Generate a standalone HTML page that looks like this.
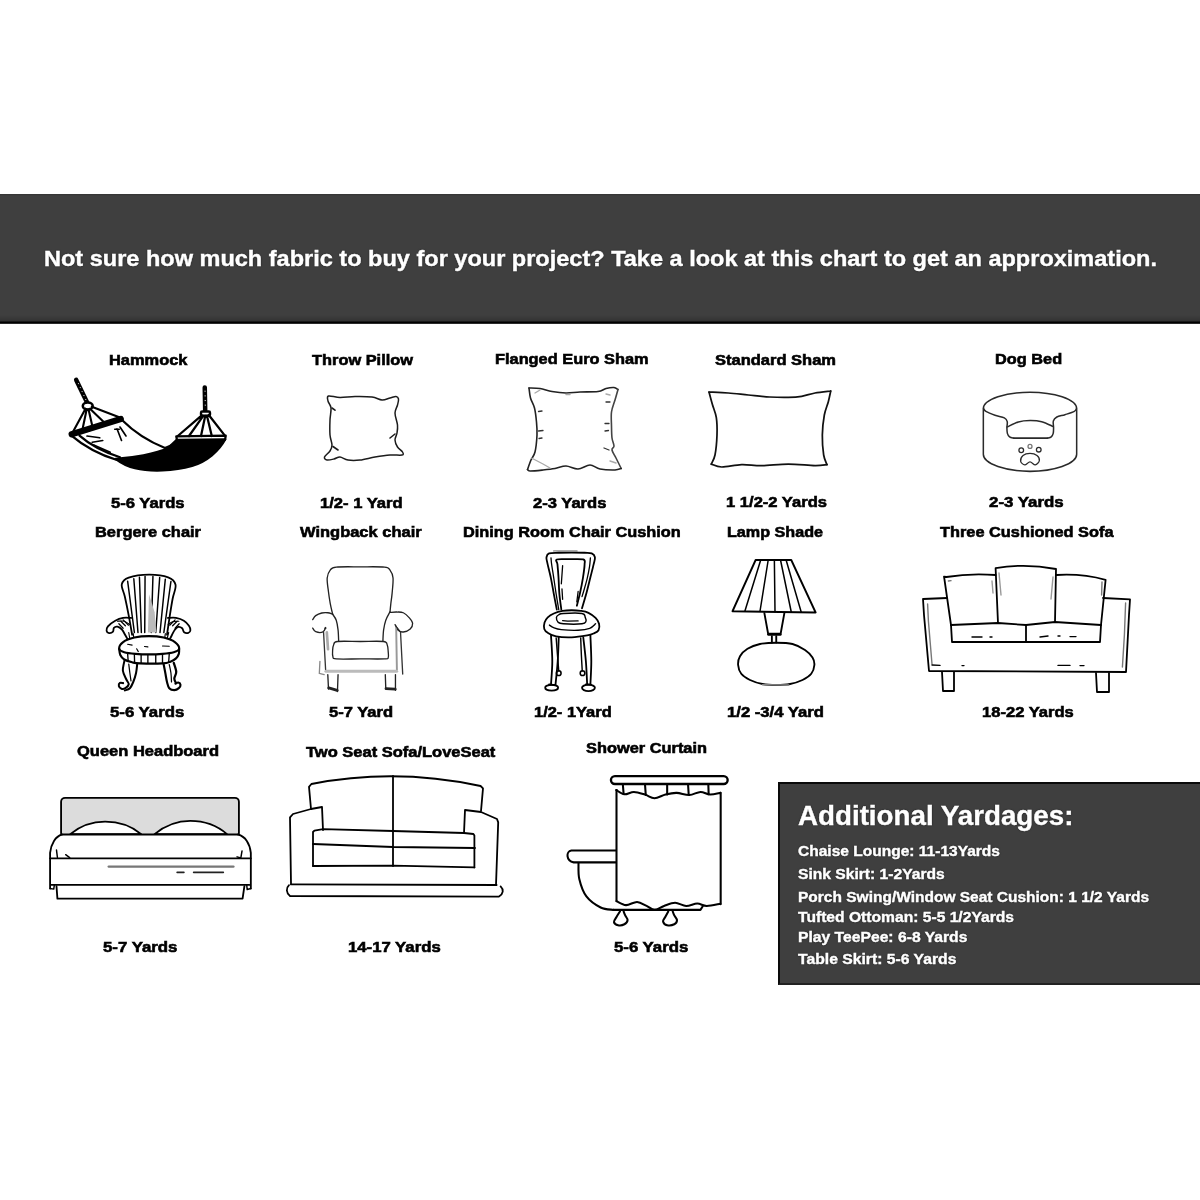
<!DOCTYPE html>
<html><head><meta charset="utf-8"><title>Fabric Yardage Chart</title>
<style>
html,body{margin:0;padding:0;background:#fff}
body{width:1200px;height:1200px;position:relative;overflow:hidden;font-family:"Liberation Sans",sans-serif}
.band{position:absolute;left:0;top:194px;width:1200px;height:130px;background:linear-gradient(#333 0,#3f3f3f 2px,#3f3f3f 121px,#333 127px,#000 128px,#000 129px,#555 130px)}
.box{position:absolute;left:778px;top:782px;width:422px;height:203px;box-sizing:border-box;background:#3f3f3f;border:2px solid #0a0a0a;border-right:none;border-bottom-color:#222}
.t{position:absolute;white-space:pre;line-height:1;font-weight:bold;transform-origin:0 0;will-change:transform;font-family:"Liberation Sans",sans-serif}
.k{color:#000;-webkit-text-stroke:0.6px #000}
.w{color:#fff;-webkit-text-stroke:0.4px #fff;text-shadow:0 0 2px rgba(0,0,0,.7)}
svg{position:absolute;left:0;top:0}
#stage{position:absolute;left:0;top:0;width:1200px;height:1200px;filter:blur(0.5px)}
</style></head><body>
<div id="stage">
<div class="band"></div>
<div class="box"></div>
<svg width="1200" height="1200" viewBox="0 0 1200 1200" fill="none" stroke="#000" stroke-width="1.6" stroke-linecap="round" stroke-linejoin="round">
<g transform="translate(60,370) scale(0.15000)" stroke-width="15">
<path d="M108 66 L185 225" stroke-width="30"/>
<path d="M122 88 L176 206" stroke="#fff" stroke-width="6" stroke-dasharray="7 22" stroke-linecap="butt"/>
<ellipse cx="185" cy="240" rx="33" ry="24" fill="#fff" stroke-width="17"/>
<path d="M170 258 L85 415 M178 262 L150 395 M190 262 L215 372 M200 258 L290 345 M212 245 L395 315" stroke-width="14"/>
<path d="M78 428 L405 326" stroke-width="42"/>
<path d="M965 116 L968 272" stroke-width="30"/>
<path d="M967 138 L969 260" stroke="#fff" stroke-width="6" stroke-dasharray="7 24" stroke-linecap="butt"/>
<rect x="940" y="277" width="60" height="28" rx="8" fill="#fff" stroke-width="16"/>
<path d="M775 442 L1105 438 L1100 466 L780 468 Z" fill="#fff"/>
<path d="M945 302 L785 440 M955 306 L860 440 M968 306 L940 440 M980 306 L1012 440 M992 300 L1098 436"/>
<path d="M415 335 C500 420 600 480 700 520 L760 495"/>
<path d="M70 432 C150 500 250 560 380 600"/>
<path d="M130 438 C200 500 300 550 400 582"/>
<path d="M778 466 L1102 462 C1060 540 980 610 880 640 C760 675 600 680 500 655 C440 640 400 615 370 592 C480 585 640 560 720 520 Z" fill="#000"/>
<path d="M365 395 L395 395 M380 392 L410 470 M400 380 L440 440 M180 440 L265 452 M215 482 L285 470 M225 500 L335 548" stroke-width="11"/>
</g>
<g transform="translate(300,375) scale(0.10000)" stroke-width="15" stroke="#1c1c1c">
<path d="M285 210 C305.0 204.2 355.8 224.2 400 225 C444.2 225.8 496.7 215.8 550 215 C603.3 214.2 675.0 214.2 720 220 C765.0 225.8 790.0 248.3 820 250 C850.0 251.7 876.7 235.8 900 230 C923.3 224.2 945.8 213.3 960 215 C974.2 216.7 982.5 225.8 985 240 C987.5 254.2 980.8 276.7 975 300 C969.2 323.3 950.0 346.7 950 380 C950.0 413.3 971.7 466.7 975 500 C978.3 533.3 974.2 555.0 970 580 C965.8 605.0 949.2 626.7 950 650 C950.8 673.3 962.5 700.0 975 720 C987.5 740.0 1017.5 756.7 1025 770 C1032.5 783.3 1040.8 795.0 1020 800 C999.2 805.0 945.0 796.7 900 800 C855.0 803.3 800.0 811.7 750 820 C700.0 828.3 645.0 845.0 600 850 C555.0 855.0 513.3 855.0 480 850 C446.7 845.0 423.3 821.7 400 820 C376.7 818.3 361.7 835.0 340 840 C318.3 845.0 285.8 853.3 270 850 C254.2 846.7 240.0 835.0 245 820 C250.0 805.0 287.5 780.0 300 760 C312.5 740.0 320.0 726.7 320 700 C320.0 673.3 303.3 641.7 300 600 C296.7 558.3 298.3 495.0 300 450 C301.7 405.0 313.3 361.7 310 330 C306.7 298.3 284.2 280.0 280 260 C275.8 240.0 265.0 215.8 285 210 Z"/>
<path d="M900 630 L950 590 M330 715 L380 750 M320 330 L350 352" stroke-width="16"/>
</g>
<g transform="translate(510,370) scale(0.10000)" stroke-width="16">
<path d="M190 180 C208.3 180.8 261.7 179.2 300 185 C338.3 190.8 376.7 207.5 420 215 C463.3 222.5 513.3 229.2 560 230 C606.7 230.8 646.7 222.5 700 220 C753.3 217.5 836.7 220.8 880 215 C923.3 209.2 933.3 191.7 960 185 C986.7 178.3 1020.0 173.3 1040 175 C1060.0 176.7 1073.3 191.7 1080 195 " stroke="#222"/>
<path d="M1080 195 C1075.0 212.5 1060.8 262.5 1050 300 C1039.2 337.5 1020.8 376.7 1015 420 C1009.2 463.3 1014.2 516.7 1015 560 C1015.8 603.3 1015.8 646.7 1020 680 C1024.2 713.3 1040.0 740.0 1040 760 C1040.0 780.0 1016.7 780.0 1020 800 C1023.3 820.0 1044.7 849.2 1060 880 C1075.3 910.8 1103.3 967.5 1112 985" stroke="#444"/>
<path d="M1112 985 C1101.7 987.5 1085.3 999.2 1050 1000 C1014.7 1000.8 941.7 998.3 900 990 C858.3 981.7 836.7 950.0 800 950 C763.3 950.0 720.0 988.3 680 990 C640.0 991.7 598.3 960.8 560 960 C521.7 959.2 488.3 978.3 450 985 C411.7 991.7 371.7 995.8 330 1000 C288.3 1004.2 225.8 1010.8 200 1010 C174.2 1009.2 179.2 997.5 175 995" stroke="#222"/>
<path d="M175 995 C180.8 979.2 197.5 929.2 210 900 C222.5 870.8 240.0 861.7 250 820 C260.0 778.3 267.5 700.0 270 650 C272.5 600.0 269.2 565.0 265 520 C260.8 475.0 255.0 420.0 245 380 C235.0 340.0 214.2 313.3 205 280 C195.8 246.7 192.5 196.7 190 180" stroke="#222"/>
<path d="M285 415 L320 410 M285 610 L330 605 M290 685 L320 680 M960 320 L1000 320 M950 535 L990 535 M950 610 L985 605 M940 780 L990 800" stroke-width="13" stroke="#333"/>
<path d="M215 880 L330 940 L400 980 M1060 930 L1000 910 M250 230 L300 200 M1000 250 L960 240 M560 245 L600 245" stroke-width="14" stroke="#aaa"/>
</g>
<g transform="translate(695,375) scale(0.13333)" stroke-width="13" stroke="#111">
<path d="M105 128 C129.2 129.2 200.8 131.3 250 135 C299.2 138.7 348.3 145.0 400 150 C451.7 155.0 510.0 162.0 560 165 C610.0 168.0 660.0 168.8 700 168 C740.0 167.2 766.7 165.5 800 160 C833.3 154.5 863.7 141.7 900 135 C936.3 128.3 998.3 122.5 1018 120"/>
<path d="M1018 120 C1015.0 133.3 1008.0 170.0 1000 200 C992.0 230.0 977.5 258.3 970 300 C962.5 341.7 955.8 400.0 955 450 C954.2 500.0 959.2 563.0 965 600 C970.8 637.0 985.8 660.0 990 672"/>
<path d="M990 672 C975.0 673.3 948.3 680.7 900 680 C851.7 679.3 766.7 668.0 700 668 C633.3 668.0 558.3 679.3 500 680 C441.7 680.7 400.0 670.3 350 672 C300.0 673.7 238.0 690.7 200 690 C162.0 689.3 135.0 671.7 122 668"/>
<path d="M122 668 C126.7 656.7 142.8 636.3 150 600 C157.2 563.7 163.3 496.7 165 450 C166.7 403.3 165.8 358.3 160 320 C154.2 281.7 139.2 252.0 130 220 C120.8 188.0 109.2 143.3 105 128"/>
</g>
<g transform="translate(960,375) scale(0.11667)" stroke-width="13" stroke="#2a2a2a">
<path d="M200 290 C200 205 400 148 600 148 C800 148 1000 205 1000 290 L1000 680 C1000 765 800 826 600 826 C400 826 200 765 200 680 Z"/>
<path d="M202 288 C205.3 292.0 205.7 302.5 222 312 C238.3 321.5 273.7 335.7 300 345 C326.3 354.3 362.5 358.8 380 368 C397.5 377.2 401.3 386.3 405 400 C408.7 413.7 401.8 433.3 402 450 C402.2 466.7 402.2 486.7 406 500 C409.8 513.3 416.0 523.2 425 530 C434.0 536.8 454.2 539.2 460 541"/>
<path d="M998 288 C995.0 292.0 996.3 303.3 980 312 C963.7 320.7 925.0 332.0 900 340 C875.0 348.0 846.7 350.8 830 360 C813.3 369.2 804.7 380.0 800 395 C795.3 410.0 802.2 432.5 802 450 C801.8 467.5 802.3 486.7 799 500 C795.7 513.3 790.2 523.2 782 530 C773.8 536.8 755.3 539.2 750 541"/>
<path d="M460 541 L750 541"/>
<path d="M406 445 C421.7 437.8 467.7 411.2 500 402 C532.3 392.8 566.7 390.3 600 390 C633.3 389.7 666.8 391.3 700 400 C733.2 408.7 782.5 435.0 799 442"/>
<circle cx="525" cy="645" r="20" stroke-width="11"/><circle cx="600" cy="612" r="17" stroke-width="11" stroke="#777"/><circle cx="675" cy="640" r="20" stroke-width="11"/>
<path d="M540 690 C526.7 701.3 517.5 726.7 520 740 C522.5 753.3 541.7 769.2 555 770 C568.3 770.8 585.0 745.0 600 745 C615.0 745.0 631.7 771.7 645 770 C658.3 768.3 677.5 748.3 680 735 C682.5 721.7 673.3 700.5 660 690 C646.7 679.5 620.0 672.0 600 672 C580.0 672.0 553.3 678.7 540 690 Z" stroke-width="11"/>
</g>
<g transform="translate(95,565) scale(0.11250)" stroke-width="16">
<path d="M330 620 C325.0 591.7 310.8 506.7 300 450 C289.2 393.3 275.3 326.3 265 280 C254.7 233.7 232.2 200.0 238 172 C243.8 144.0 259.7 126.3 300 112 C340.3 97.7 421.7 86.3 480 86 C538.3 85.7 610.7 95.0 650 110 C689.3 125.0 709.3 144.3 716 176 C722.7 207.7 698.5 254.3 690 300 C681.5 345.7 673.3 396.7 665 450 C656.7 503.3 644.2 591.7 640 620"/>
<path d="M290 144 L350 600" stroke-width="13"/>
<path d="M345 122 L382 600" stroke-width="13"/>
<path d="M395 109 L412 600" stroke-width="13"/>
<path d="M445 101 L442 600" stroke-width="13"/>
<path d="M515 101 L500 600" stroke-width="13"/>
<path d="M575 111 L540 600" stroke-width="13"/>
<path d="M625 126 L578 600" stroke-width="13"/>
<path d="M675 146 L612 600" stroke-width="13"/>
<path d="M480 260 L470 600 L545 600 L530 420 Z" fill="#bbb" stroke="none"/>
<path d="M322 470 C310.0 470.0 273.7 465.8 250 470 C226.3 474.2 202.5 482.5 180 495 C157.5 507.5 127.8 530.0 115 545 C102.2 560.0 101.3 575.0 103 585 C104.7 595.0 115.5 603.8 125 605 C134.5 606.2 152.8 599.8 160 592 C167.2 584.2 161.3 565.3 168 558 C174.7 550.7 188.0 545.2 200 548 C212.0 550.8 228.3 562.2 240 575 C251.7 587.8 261.7 610.8 270 625 C278.3 639.2 286.7 654.2 290 660"/>
<path d="M200 500 C210.0 500.0 241.7 495.0 260 500 C278.3 505.0 301.7 525.0 310 530" stroke-width="10"/>
<path d="M648 470 C660.0 470.0 696.3 465.8 720 470 C743.7 474.2 770.8 483.3 790 495 C809.2 506.7 825.3 525.8 835 540 C844.7 554.2 848.8 569.5 848 580 C847.2 590.5 839.3 600.0 830 603 C820.7 606.0 801.2 604.8 792 598 C782.8 591.2 783.7 570.0 775 562 C766.3 554.0 750.8 547.8 740 550 C729.2 552.2 719.2 563.3 710 575 C700.8 586.7 692.5 605.8 685 620 C677.5 634.2 668.3 653.3 665 660"/>
<path d="M745 500 C735.8 500.8 705.8 500.0 690 505 C674.2 510.0 656.7 525.8 650 530" stroke-width="10"/>
<path d="M300 600 L310 660 M340 610 L345 650 M655 600 L640 660 M625 610 L620 650" stroke-width="10"/>
<path d="M230 500 L270 540 M250 488 L298 535 M212 522 L250 562 M730 500 L690 540 M712 488 L664 535 M748 522 L712 562" stroke-width="11"/>
<path d="M215 745 C213.3 730.0 227.5 701.7 250 685 C272.5 668.3 311.7 653.8 350 645 C388.3 636.2 436.7 632.0 480 632 C523.3 632.0 571.7 636.2 610 645 C648.3 653.8 687.0 668.3 710 685 C733.0 701.7 749.7 730.0 748 745 C746.3 760.0 724.7 767.5 700 775 C675.3 782.5 636.7 786.7 600 790 C563.3 793.3 520.0 795.0 480 795 C440.0 795.0 396.7 793.3 360 790 C323.3 786.7 284.2 782.5 260 775 C235.8 767.5 216.7 760.0 215 745 Z" fill="#fff" stroke-width="19"/>
<path d="M215 745 C216.7 754.2 217.5 784.2 225 800 C232.5 815.8 242.5 829.2 260 840 C277.5 850.8 306.7 859.2 330 865 C353.3 870.8 355.0 873.3 400 875 C445.0 876.7 555.0 877.5 600 875 C645.0 872.5 650.0 867.5 670 860 C690.0 852.5 707.5 841.7 720 830 C732.5 818.3 740.3 804.2 745 790 C749.7 775.8 747.5 752.5 748 745" stroke-width="19"/>
<path d="M290 790 L295 855 M350 795 L352 868 M410 800 L410 872 M470 800 L470 872 M540 800 L540 872 M600 795 L600 870 M660 790 L655 860" stroke-width="12"/>
<path d="M290 705 L330 712 M600 720 L660 722 M440 725 L470 728 M370 745 L385 770" stroke-width="10"/>
<path d="M262 850 C259.7 865.0 245.0 911.7 248 940 C251.0 968.3 271.3 1000.0 280 1020 C288.7 1040.0 301.7 1047.5 300 1060 C298.3 1072.5 280.8 1088.3 270 1095 C259.2 1101.7 244.7 1103.3 235 1100 C225.3 1096.7 214.2 1083.7 212 1075 C209.8 1066.3 215.7 1052.2 222 1048 C228.3 1043.8 245.3 1049.7 250 1050" stroke-width="18"/>
<path d="M375 882 C373.3 895.0 370.8 933.7 365 960 C359.2 986.3 349.2 1017.5 340 1040 C330.8 1062.5 322.5 1082.5 310 1095 C297.5 1107.5 272.5 1111.7 265 1115" stroke-width="18"/>
<path d="M300 880 C301.7 893.3 306.7 935.0 310 960 C313.3 985.0 318.3 1018.3 320 1030" stroke-width="11"/>
<path d="M610 882 C612.5 895.0 620.0 933.7 625 960 C630.0 986.3 634.2 1017.5 640 1040 C645.8 1062.5 649.2 1083.0 660 1095 C670.8 1107.0 690.8 1112.0 705 1112 C719.2 1112.0 735.8 1102.8 745 1095 C754.2 1087.2 760.8 1073.3 760 1065 C759.2 1056.7 747.5 1046.7 740 1045 C732.5 1043.3 719.2 1053.3 715 1055" stroke-width="19"/>
<path d="M700 870 C703.7 883.3 721.2 926.7 722 950 C722.8 973.3 705.3 993.3 705 1010 C704.7 1026.7 717.5 1043.3 720 1050" stroke-width="20"/>
<path d="M660 885 C662.5 897.5 671.7 934.2 675 960 C678.3 985.8 679.2 1026.7 680 1040" stroke-width="11"/>
</g>
<g transform="translate(300,555) scale(0.12083)" stroke-width="11">
<path d="M270 490 C266.7 475.0 255.8 431.7 250 400 C244.2 368.3 239.2 335.0 235 300 C230.8 265.0 222.5 219.2 225 190 C227.5 160.8 237.5 140.0 250 125 C262.5 110.0 258.3 104.5 300 100 C341.7 95.5 433.3 98.0 500 98 C566.7 98.0 659.2 95.5 700 100 C740.8 104.5 733.3 110.0 745 125 C756.7 140.0 767.2 157.5 770 190 C772.8 222.5 765.0 285.0 762 320 C759.0 355.0 754.8 375.0 752 400 C749.2 425.0 746.2 458.3 745 470" stroke="#222"/>
<path d="M270 490 C275.0 498.3 292.5 518.3 300 540 C307.5 561.7 311.7 591.3 315 620 C318.3 648.7 319.2 696.7 320 712" stroke="#222"/>
<path d="M745 470 C739.2 481.7 718.8 515.0 710 540 C701.2 565.0 696.0 591.3 692 620 C688.0 648.7 687.0 696.7 686 712" stroke="#222"/>
<path d="M270 490 C263.3 488.0 245.0 479.7 230 478 C215.0 476.3 196.7 476.0 180 480 C163.3 484.0 142.5 492.8 130 502 C117.5 511.2 109.2 529.5 105 535" stroke="#222"/>
<path d="M105 605 C109.2 610.0 115.8 629.7 130 635 C144.2 640.3 176.3 642.8 190 637 C203.7 631.2 208.3 606.2 212 600" stroke="#222"/>
<path d="M745 475 C754.2 474.5 781.7 471.5 800 472 C818.3 472.5 837.5 470.0 855 478 C872.5 486.0 892.2 505.5 905 520 C917.8 534.5 930.8 549.7 932 565 C933.2 580.3 924.8 600.0 912 612 C899.2 624.0 871.7 635.3 855 637 C838.3 638.7 823.2 631.8 812 622 C800.8 612.2 792.0 585.3 788 578" stroke="#222"/>
<path d="M195 640 L212 950" stroke="#333"/>
<path d="M222 640 L232 780" stroke="#aaa" stroke-width="22"/>
<path d="M832 640 L850 985" stroke="#333"/>
<path d="M796 600 L802 950" stroke="#999" stroke-width="16"/>
<path d="M310 716 C347.0 711.2 436.7 716.0 500 716 C563.3 716.0 653.0 711.2 690 716 C727.0 720.8 715.3 731.0 722 745 C728.7 759.0 728.7 782.5 730 800 C731.3 817.5 735.0 840.0 730 850 C725.0 860.0 738.3 858.3 700 860 C661.7 861.7 566.7 860.0 500 860 C433.3 860.0 338.0 863.3 300 860 C262.0 856.7 277.0 851.7 272 840 C267.0 828.3 269.0 805.8 270 790 C271.0 774.2 271.3 757.3 278 745 C284.7 732.7 273.0 720.8 310 716 Z" stroke="#222"/>
<path d="M215 962 L800 962" stroke="#bbb" stroke-width="26"/>
<path d="M165 880 L160 980 L200 990" stroke="#888"/>
<path d="M230 990 L236 1110 M315 990 L310 1130 M706 990 L710 1110 M790 990 L790 1120" stroke="#222"/>
<path d="M238 1100 L308 1120 M712 1106 L788 1110" stroke="#222" stroke-width="24"/>
<path d="M788 578 L812 622 L836 640 L804 598 Z" fill="#222" stroke="#222" stroke-width="6"/>
<circle cx="210" cy="606" r="9" fill="#222" stroke="none"/>
</g>
<g transform="translate(520,545) scale(0.12917)" stroke-width="14">
<path d="M262 46 L440 46" stroke="#aaa" stroke-width="14"/>
<path d="M285 500 C281.2 480.0 269.5 420.0 262 380 C254.5 340.0 248.3 300.0 240 260 C231.7 220.0 217.8 167.5 212 140 C206.2 112.5 202.8 107.5 205 95 C207.2 82.5 209.2 70.8 225 65 C240.8 59.2 254.2 60.8 300 60 C345.8 59.2 457.5 59.2 500 60 C542.5 60.8 541.7 59.2 555 65 C568.3 70.8 577.5 80.8 580 95 C582.5 109.2 575.8 124.2 570 150 C564.2 175.8 554.2 213.3 545 250 C535.8 286.7 525.8 330.0 515 370 C504.2 410.0 485.8 470.0 480 490"/>
<path d="M300 500 C296.7 480.0 286.3 420.0 280 380 C273.7 340.0 267.8 298.3 262 260 C256.2 221.7 248.7 176.7 245 150 C241.3 123.3 240.8 108.3 240 100" stroke-width="10"/>
<path d="M545 100 C543.8 111.7 542.2 143.3 538 170 C533.8 196.7 527.2 230.0 520 260 C512.8 290.0 501.7 326.7 495 350 C488.3 373.3 482.5 391.7 480 400" stroke-width="10"/>
<path d="M320 500 C317.5 480.0 308.7 421.7 305 380 C301.3 338.3 300.5 288.3 298 250 C295.5 211.7 292.2 173.0 290 150 C287.8 127.0 270.0 118.7 285 112 C300.0 105.3 345.8 110.0 380 110 C414.2 110.0 470.0 105.3 490 112 C510.0 118.7 500.3 127.0 500 150 C499.7 173.0 493.8 213.3 488 250 C482.2 286.7 473.0 333.3 465 370 C457.0 406.7 444.2 453.3 440 470"/>
<path d="M330 160 L320 300 M325 340 L330 420 M450 360 L440 440" stroke-width="10"/>
<path d="M190 600 C194.5 585.0 203.0 571.7 215 560 C227.0 548.3 242.8 538.3 262 530 C281.2 521.7 307.0 514.2 330 510 C353.0 505.8 376.7 505.0 400 505 C423.3 505.0 448.3 506.7 470 510 C491.7 513.3 510.8 515.8 530 525 C549.2 534.2 571.3 550.8 585 565 C598.7 579.2 608.2 594.2 612 610 C615.8 625.8 615.0 647.5 608 660 C601.0 672.5 584.7 678.3 570 685 C555.3 691.7 548.3 695.0 520 700 C491.7 705.0 440.0 713.7 400 715 C360.0 716.3 310.8 713.8 280 708 C249.2 702.2 230.3 689.7 215 680 C199.7 670.3 192.2 663.3 188 650 C183.8 636.7 185.5 615.0 190 600 Z" fill="#fff"/>
<path d="M282 560 C282.8 550.3 291.2 545.0 300 540 C308.8 535.0 305.0 531.7 335 530 C365.0 528.3 451.7 525.0 480 530 C508.3 535.0 500.0 549.7 505 560 C510.0 570.3 514.2 583.7 510 592 C505.8 600.3 509.2 607.0 480 610 C450.8 613.0 365.8 612.0 335 610 C304.2 608.0 303.8 606.3 295 598 C286.2 589.7 281.2 569.7 282 560 Z" stroke-width="11"/>
<path d="M228 620 C233.3 623.3 244.7 634.2 260 640 C275.3 645.8 288.3 651.7 320 655 C351.7 658.3 413.3 661.7 450 660 C486.7 658.3 517.5 653.3 540 645 C562.5 636.7 577.5 615.8 585 610" stroke-width="11"/>
<path d="M330 585 L370 590 L450 588" stroke-width="10"/>
<path d="M240 700 C241.7 733.3 250.0 836.7 250 900 C250.0 963.3 241.7 1050.0 240 1080"/>
<path d="M300 712 C298.7 743.3 296.2 838.7 292 900 C287.8 961.3 277.8 1050.0 275 1080"/>
<path d="M490 716 C493.3 746.7 505.0 839.3 510 900 C515.0 960.7 518.3 1050.0 520 1080"/>
<path d="M545 700 C546.2 733.3 552.0 836.7 552 900 C552.0 963.3 546.2 1050.0 545 1080"/>
<path d="M280 720 C281.7 741.7 286.7 807.5 290 850 C293.3 892.5 298.3 954.2 300 975" stroke-width="11"/>
<path d="M470 720 C470.8 741.7 473.0 807.5 475 850 C477.0 892.5 480.8 954.2 482 975" stroke-width="11"/>
<circle cx="300" cy="992" r="18" stroke-width="12"/><circle cx="484" cy="992" r="18" stroke-width="12"/>
<ellipse cx="245" cy="1105" rx="50" ry="22" fill="#fff"/><ellipse cx="530" cy="1106" rx="50" ry="25" fill="#fff"/>
<path d="M225 1080 L275 1085 M510 1080 L550 1082" stroke-width="14"/>
</g>
<g transform="translate(715,550) scale(0.12500)" stroke-width="15">
<path d="M325 80 L610 80 L805 500 L140 490 Z"/>
<path d="M365 82 L240 486 M425 84 L360 490 M475 84 L480 494 M525 84 L610 496 M570 84 L690 498" stroke-width="12"/>
<path d="M395 505 L425 670 L525 670 L555 505"/>
<path d="M425 676 L525 676" stroke-width="18"/>
<path d="M455 690 L455 740 M490 690 L490 740"/>
<path d="M490 742 C533.3 742.0 581.7 742.3 620 752 C658.3 761.7 693.3 782.0 720 800 C746.7 818.0 767.5 840.0 780 860 C792.5 880.0 796.7 898.3 795 920 C793.3 941.7 785.8 970.0 770 990 C754.2 1010.0 728.3 1026.3 700 1040 C671.7 1053.7 635.0 1065.3 600 1072 C565.0 1078.7 526.7 1080.0 490 1080 C453.3 1080.0 415.0 1078.7 380 1072 C345.0 1065.3 308.3 1053.7 280 1040 C251.7 1026.3 225.8 1010.0 210 990 C194.2 970.0 186.7 943.3 185 920 C183.3 896.7 187.5 871.7 200 850 C212.5 828.3 233.3 806.3 260 790 C286.7 773.7 321.7 760.0 360 752 C398.3 744.0 446.7 742.0 490 742 Z"/>
<path d="M380 1078 L590 1080" stroke="#888" stroke-width="12"/>
</g>
<g transform="translate(910,555) scale(0.20000)" stroke-width="9">
<path d="M185 215 L65 220 L70 300 L95 580 L1080 585 L1095 300 L1100 222 L965 215"/>
<path d="M88 245 L92 330 L110 545" stroke="#777" stroke-width="7"/>
<path d="M1078 240 L1072 400 L1062 560" stroke="#777" stroke-width="7"/>
<path d="M205 350 L172 120 L170 108 L182 110 Q300 90 428 100"/>
<path d="M440 340 L428 66 Q575 40 730 70 L725 335"/>
<path d="M732 100 Q860 92 978 124 L955 350"/>
<path d="M192 130 L205 128 M960 135 L958 200" stroke="#777" stroke-width="7"/>
<path d="M205 350 L440 340 L580 350 L725 335 L955 350"/>
<path d="M205 350 L210 435 L580 435 L950 435 L955 350 M580 350 L580 435"/>
<path d="M160 585 L165 680 L220 680 L220 585 M930 590 L935 685 L995 685 L995 590"/>
<path d="M310 410 L360 410 M400 410 L410 410 M650 410 L690 405 M740 405 L750 405 M800 408 L830 408 M110 550 L150 552 M740 552 L800 552 M850 553 L870 553 M260 553 L270 553" stroke-width="7"/>
<path d="M445 90 L455 200 M715 110 L705 220 M410 130 L415 190" stroke="#999" stroke-width="7"/>
</g>
<g transform="translate(40,785) scale(0.18333)" stroke-width="10">
<rect x="115" y="70" width="970" height="215" rx="22" fill="#dcdcdc"/>
<path d="M120 270 C85 280 60 320 55 370 L55 565 L1150 565 L1150 370 C1145 320 1120 280 1080 270 Z" fill="#fff" stroke="none"/>
<path d="M165 268 C230 215 290 200 355 200 C430 200 500 225 552 268 Z" fill="#fff"/>
<path d="M625 268 C690 215 750 196 820 196 C900 196 970 225 1020 268 Z" fill="#fff"/>
<path d="M120 270 L1080 270"/>
<path d="M120 270 C85 280 60 320 55 370 L55 400 M1080 270 C1120 280 1145 320 1150 370 L1150 400"/>
<path d="M58 400 L1145 400"/>
<path d="M90 355 L95 395 M140 380 L162 396 M1102 360 L1096 395 M1075 392 L1090 396" stroke-width="8"/>
<path d="M55 400 L55 565 M1150 400 L1150 565"/>
<path d="M60 545 L1142 545"/>
<path d="M55 565 L75 568 L78 548 M1150 565 L1130 570 L1128 548" stroke-width="8"/>
<path d="M90 552 L95 620 L1105 620 L1115 552"/>
<path d="M375 445 L1055 445" stroke="#777" stroke-width="13"/>
<path d="M748 477 L785 477 M838 477 L1000 477" stroke="#222" stroke-width="9"/>
</g>
<g transform="translate(275,770) scale(0.20000)" stroke-width="9">
<path d="M180 195 L170 84 L182 70 Q600 -12 1028 80 L1040 92 L1030 205"/>
<path d="M590 30 L590 480"/>
<path d="M80 570 L75 237 L90 220 L180 195 L235 185 L240 300"/>
<path d="M945 315 L950 200 L1030 210 L1110 245 L1116 262 L1105 575"/>
<path d="M190 480 L190 310 L197 303 L240 296 L590 305 L945 315 L992 320 L997 328 L997 487"/>
<path d="M190 370 L590 385 L1000 390"/>
<path d="M190 480 L590 478 L997 487"/>
<path d="M80 572 L1108 575"/>
<path d="M70 576 C55 590 55 615 75 630 L1120 633 C1142 620 1145 598 1128 582"/>
</g>
<g transform="translate(550,765) scale(0.15833)" stroke-width="13">
<rect x="385" y="70" width="737" height="50" rx="25" stroke-width="15"/>
<path d="M460 122 L465 182 M600 122 L605 190 M740 125 L740 186 M872 125 L876 186 M1000 125 L1002 184"/>
<path d="M418 158 C426.7 162.5 451.3 183.0 470 185 C488.7 187.0 508.3 169.7 530 170 C551.7 170.3 578.3 180.3 600 187 C621.7 193.7 638.3 210.2 660 210 C681.7 209.8 706.7 191.7 730 186 C753.3 180.3 775.0 175.3 800 176 C825.0 176.7 855.0 191.0 880 190 C905.0 189.0 928.3 170.7 950 170 C971.7 169.3 989.0 185.0 1010 186 C1031.0 187.0 1065.0 177.7 1076 176"/>
<path d="M420 158 L420 860 M1078 176 L1078 880"/>
<path d="M420 860 C430.0 864.2 458.3 884.2 480 885 C501.7 885.8 528.3 864.2 550 865 C571.7 865.8 591.7 881.7 610 890 C628.3 898.3 641.7 915.0 660 915 C678.3 915.0 698.3 897.5 720 890 C741.7 882.5 766.7 870.0 790 870 C813.3 870.0 836.7 889.2 860 890 C883.3 890.8 908.3 875.0 930 875 C951.7 875.0 965.7 889.8 990 890 C1014.3 890.2 1061.7 878.3 1076 876"/>
<path d="M415 540 L135 540 C100 545 100 605 150 615 L415 615"/>
<path d="M180 620 C180.8 636.7 176.7 685.0 185 720 C193.3 755.0 207.5 800.0 230 830 C252.5 860.0 291.7 885.8 320 900 C348.3 914.2 386.7 912.5 400 915"/>
<path d="M400 915 L950 915 L965 892"/>
<path d="M442 925 C438.3 930.8 426.3 948.8 420 960 C413.7 971.2 402.3 983.3 404 992 C405.7 1000.7 419.0 1009.7 430 1012 C441.0 1014.3 460.0 1011.3 470 1006 C480.0 1000.7 489.2 989.3 490 980 C490.8 970.7 479.2 959.2 475 950 C470.8 940.8 466.7 929.2 465 925"/>
<path d="M747 925 C743.8 930.8 733.5 949.5 728 960 C722.5 970.5 712.0 979.3 714 988 C716.0 996.7 728.2 1009.0 740 1012 C751.8 1015.0 774.7 1011.3 785 1006 C795.3 1000.7 802.0 989.3 802 980 C802.0 970.7 789.5 959.2 785 950 C780.5 940.8 776.7 929.2 775 925"/>
</g>
</svg>
<div class="t w" style="left:44.0px;top:247.6px;font-size:22px;transform:scaleX(1.0691)">Not sure how much fabric to buy for your project? Take a look at this chart to get an approximation.</div>
<div class="t k" style="left:108.8px;top:351.9px;font-size:15.5px;transform:scaleX(1.0581)">Hammock</div>
<div class="t k" style="left:311.8px;top:351.9px;font-size:15.5px;transform:scaleX(1.0566)">Throw Pillow</div>
<div class="t k" style="left:495.2px;top:351.2px;font-size:15.5px;transform:scaleX(1.0552)">Flanged Euro Sham</div>
<div class="t k" style="left:715.2px;top:351.9px;font-size:15.5px;transform:scaleX(1.0642)">Standard Sham</div>
<div class="t k" style="left:994.7px;top:350.9px;font-size:15.5px;transform:scaleX(1.0531)">Dog Bed</div>
<div class="t k" style="left:111.2px;top:494.5px;font-size:15.5px;transform:scaleX(1.0720)">5-6 Yards</div>
<div class="t k" style="left:320.2px;top:494.5px;font-size:15.5px;transform:scaleX(1.0690)">1/2- 1 Yard</div>
<div class="t k" style="left:532.8px;top:494.5px;font-size:15.5px;transform:scaleX(1.0691)">2-3 Yards</div>
<div class="t k" style="left:726.2px;top:493.8px;font-size:15.5px;transform:scaleX(1.0686)">1 1/2-2 Yards</div>
<div class="t k" style="left:988.8px;top:494.2px;font-size:15.5px;transform:scaleX(1.0880)">2-3 Yards</div>
<div class="t k" style="left:95.2px;top:523.5px;font-size:15.5px;transform:scaleX(1.0605)">Bergere chair</div>
<div class="t k" style="left:299.5px;top:523.5px;font-size:15.5px;transform:scaleX(1.0636)">Wingback chair</div>
<div class="t k" style="left:462.8px;top:523.5px;font-size:15.5px;transform:scaleX(1.0534)">Dining Room Chair Cushion</div>
<div class="t k" style="left:726.8px;top:523.5px;font-size:15.5px;transform:scaleX(1.0415)">Lamp Shade</div>
<div class="t k" style="left:939.5px;top:523.7px;font-size:15.5px;transform:scaleX(1.0547)">Three Cushioned Sofa</div>
<div class="t k" style="left:110.2px;top:703.5px;font-size:15.5px;transform:scaleX(1.0822)">5-6 Yards</div>
<div class="t k" style="left:328.8px;top:703.5px;font-size:15.5px;transform:scaleX(1.0658)">5-7 Yard</div>
<div class="t k" style="left:533.8px;top:703.5px;font-size:15.5px;transform:scaleX(1.0608)">1/2- 1Yard</div>
<div class="t k" style="left:726.8px;top:703.5px;font-size:15.5px;transform:scaleX(1.0754)">1/2 -3/4 Yard</div>
<div class="t k" style="left:982.0px;top:703.7px;font-size:15.5px;transform:scaleX(1.0686)">18-22 Yards</div>
<div class="t k" style="left:76.8px;top:742.9px;font-size:15.5px;transform:scaleX(1.0637)">Queen Headboard</div>
<div class="t k" style="left:305.5px;top:744.2px;font-size:15.5px;transform:scaleX(1.0634)">Two Seat Sofa/LoveSeat</div>
<div class="t k" style="left:586.2px;top:739.5px;font-size:15.5px;transform:scaleX(1.0563)">Shower Curtain</div>
<div class="t k" style="left:102.8px;top:938.5px;font-size:15.5px;transform:scaleX(1.0837)">5-7 Yards</div>
<div class="t k" style="left:347.8px;top:938.5px;font-size:15.5px;transform:scaleX(1.0791)">14-17 Yards</div>
<div class="t k" style="left:613.7px;top:938.7px;font-size:15.5px;transform:scaleX(1.0822)">5-6 Yards</div>
<div class="t w" style="left:797.8px;top:802.6px;font-size:27px;transform:scaleX(1.0274)">Additional Yardages:</div>
<div class="t w" style="left:797.8px;top:843.1px;font-size:15px;transform:scaleX(1.0355)">Chaise Lounge: 11-13Yards</div>
<div class="t w" style="left:797.8px;top:865.7px;font-size:15px;transform:scaleX(1.0411)">Sink Skirt: 1-2Yards</div>
<div class="t w" style="left:797.8px;top:888.6px;font-size:15px;transform:scaleX(1.0334)">Porch Swing/Window Seat Cushion: 1 1/2 Yards</div>
<div class="t w" style="left:797.8px;top:909.2px;font-size:15px;transform:scaleX(1.0421)">Tufted Ottoman: 5-5 1/2Yards</div>
<div class="t w" style="left:797.8px;top:929.2px;font-size:15px;transform:scaleX(1.0453)">Play TeePee: 6-8 Yards</div>
<div class="t w" style="left:797.8px;top:951.4px;font-size:15px;transform:scaleX(1.0477)">Table Skirt: 5-6 Yards</div>
</div>
</body></html>
